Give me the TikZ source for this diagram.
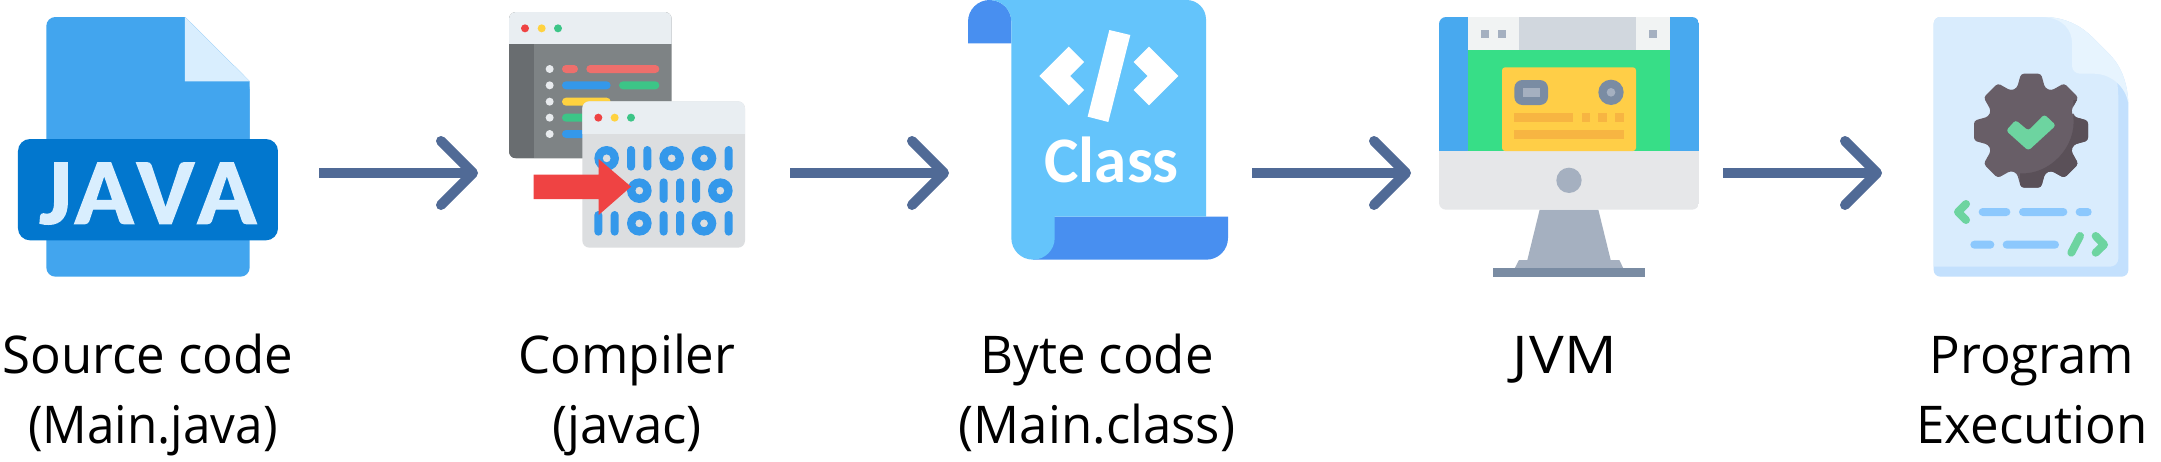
\documentclass[tikz,border=0pt]{standalone}
\usepackage{fontspec}
\usetikzlibrary{arrows.meta}
\setmainfont[FakeStretch=0.98]{Open Sans}
\newfontfamily\boldicon[FakeStretch=1.04,FakeBold=1.5,LetterSpace=3,Kerning=Off]{Carlito Bold}
\newfontfamily\boldclass{Carlito Bold}
\definecolor{flow}{HTML}{506A96}
\definecolor{jdoc}{HTML}{42A5EE}
\definecolor{jfold}{HTML}{D9EEFE}
\definecolor{jband}{HTML}{0277CE}
\definecolor{wbar}{HTML}{E9EEF2}
\definecolor{wdark}{HTML}{7E8385}
\definecolor{wstrip}{HTML}{696D70}
\definecolor{wlight}{HTML}{DCDEE0}
\definecolor{dred}{HTML}{EF4343}
\definecolor{dyel}{HTML}{FFD23F}
\definecolor{dgrn}{HTML}{3CC587}
\definecolor{bblue}{HTML}{3498EA}
\definecolor{bred}{HTML}{EE6F6C}
\definecolor{dwhite}{HTML}{E8EBEE}
\definecolor{sdark}{HTML}{488FF0}
\definecolor{slight}{HTML}{64C4FB}
\definecolor{mblue}{HTML}{48A9EF}
\definecolor{mchin}{HTML}{E6E7E9}
\definecolor{mwin}{HTML}{F1F3F3}
\definecolor{mwinc}{HTML}{D1D7DE}
\definecolor{mgrn}{HTML}{37DE87}
\definecolor{mcard}{HTML}{FFCE47}
\definecolor{mslate}{HTML}{7A8CA3}
\definecolor{mgrey}{HTML}{A5B0C0}
\definecolor{morange}{HTML}{F7B542}
\definecolor{pbase}{HTML}{C3E0FD}
\definecolor{plight}{HTML}{D9ECFD}
\definecolor{pfold}{HTML}{E7F4FE}
\definecolor{gdark}{HTML}{5A5058}
\definecolor{glight}{HTML}{685E67}
\definecolor{pgreen}{HTML}{6DD4A0}
\definecolor{pbar}{HTML}{8CC8FD}
\tikzset{
  px/.style={x=1pt,y=-1pt},
  zoomed/.style={x=0.33333pt,y=-0.33333pt},
  flowline/.style={draw=flow,line width=10pt,-{Straight Barb[round,length=32pt,width=64pt,line width=10pt]}},
  caption/.style={inner sep=0pt,align=center,anchor=base,text=black,font=\fontsize{52}{70}\selectfont},
  rbar/.style={rounded corners=4pt},
  codestroke/.style={draw=pgreen,line width=8pt,line cap=round,line join=round},
}
\newcommand{\gtooth}[1]{
  -- ([shift={(513,392)}]#1-18.2:134.7) -- ([shift={(513,392)}]#1-9.95:173.6)
  -- ([shift={(513,392)}]#1+9.95:173.6) -- ([shift={(513,392)}]#1+18.2:134.7)}
\newcommand{\gearshape}{([shift={(513,392)}]-18.2:134.7)
  \gtooth{0} \gtooth{45} \gtooth{90} \gtooth{135} \gtooth{180} \gtooth{225} \gtooth{270} \gtooth{315} -- cycle}
\begin{document}
\begin{tikzpicture}[px]
\useasboundingbox (0,0) rectangle (2161,461);
\fill[white] (0,0) rectangle (2161,461);

% Source file icon
\begin{scope}[zoomed]
  \fill[jdoc,rounded corners=9pt] (139,51) -- (555,51) -- (749,244) -- (749,830) -- (139,830) -- cycle;
  \fill[jdoc] (300,51) -- (555,51) -- (749,244) -- (749,500) -- (300,500) -- cycle;
  \fill[jfold] (555,51) -- (749,244) -- (555,244) -- cycle;
  \fill[jband,rounded corners=12pt] (54,417) rectangle (834,721);
  \node[inner sep=0pt,anchor=base,text=jfold,font=\boldicon\fontsize{94}{94}\selectfont] (javatext) at (444,671) {JAVA};
\end{scope}

% Compiler icon
\begin{scope}[shift={(480,0)},zoomed]
  \fill[wdark,rounded corners=7pt] (87,36) rectangle (575,475);
  \begin{scope}
    \clip[rounded corners=7pt] (87,36) rectangle (575,475);
    \fill[wbar] (87,36) rectangle (575,133);
    \fill[wstrip] (87,133) rectangle (161,475);
  \end{scope}
  \fill[dred] (135,85) circle[radius=12];
  \fill[dyel] (185,85) circle[radius=12];
  \fill[dgrn] (234,85) circle[radius=12];
  \foreach \y in {207,256,305,353,402} \fill[dwhite] (209,\y) circle[radius=12];
  \fill[bred,rbar] (246,195) rectangle (294,219);
  \fill[bred,rbar] (319,195) rectangle (538,219);
  \fill[bblue,rbar] (246,244) rectangle (392,268);
  \fill[dgrn,rbar] (417,244) rectangle (538,268);
  \fill[dyel,rbar] (246,293) rectangle (392,317);
  \fill[dgrn,rbar] (246,341) rectangle (392,365);
  \fill[bblue,rbar] (246,390) rectangle (392,414);
  \fill[wlight,rounded corners=7pt] (307,304) rectangle (795,743);
  \begin{scope}
    \clip[rounded corners=7pt] (307,304) rectangle (795,743);
    \fill[wbar] (307,304) rectangle (795,402);
  \end{scope}
  \fill[dred] (355,353) circle[radius=12];
  \fill[dyel] (404,353) circle[radius=12];
  \fill[dgrn] (453,353) circle[radius=12];
  \foreach \x/\y in {380/475,575/475,672/475,478/572,721/572,478/670,672/670}{
    \fill[bblue,even odd rule] (\x,\y) circle[radius=37] (\x,\y) circle[radius=12];
  }
  \foreach \x/\y in {453/475,502/475,746/475,551/572,600/572,648/572,355/670,404/670,551/670,600/670,746/670}{
    \fill[bblue,rbar] (\x-12,\y-37) rectangle (\x+12,\y+37);
  }
  \fill[dred] (161,524) -- (356,524) -- (356,477) -- (453,560) -- (356,645) -- (356,597) -- (161,597) -- cycle;
\end{scope}

% Byte code scroll icon
\begin{scope}[shift={(960,0)},zoomed]
  \fill[sdark] (24,130) -- (24,65) .. controls (24,29) and (53,0) .. (89,0) .. controls (125,0) and (154,29) .. (154,65) -- (154,130) -- cycle;
  \fill[sdark] (219,650) -- (804,650) -- (804,714) .. controls (804,750) and (775,779) .. (739,779) -- (219,779) -- cycle;
  \fill[slight] (89,0) -- (680,0) .. controls (712,0) and (738,26) .. (738,58) -- (738,650) -- (284,650) -- (284,714)
    .. controls (284,750) and (255,779) .. (219,779) .. controls (183,779) and (154,750) .. (154,714) -- (154,65)
    .. controls (154,29) and (125,0) .. (89,0) -- cycle;
  \fill[white] (326,140) -- (372,186) -- (330,228) -- (372,270) -- (326,316) -- (238,228) -- cycle;
  \fill[white] (567,140) -- (655,228) -- (567,316) -- (521,270) -- (563,228) -- (521,186) -- cycle;
  \fill[white] (448,90) -- (511,105) -- (445,366) -- (383,350) -- cycle;
  \node[inner sep=0pt,anchor=base,text=white,font=\boldclass\fontsize{65}{65}\selectfont] (classtext) at (455,548) {Class};
\end{scope}

% JVM monitor icon
\begin{scope}[shift={(1420,0)},zoomed]
  \fill[mgrey] (359,629) -- (535,629) -- (572,780) -- (598,780) -- (610,805) -- (284,805) -- (297,780) -- (322,780) -- cycle;
  \fill[mslate] (220,805) rectangle (674,830);
  \begin{scope}
    \clip[rounded corners=7pt] (57,51) rectangle (837,629);
    \fill[mblue] (57,51) rectangle (837,453);
    \fill[mchin] (57,453) rectangle (837,629);
    \fill[mgrn] (145,151) rectangle (749,453);
    \fill[mwin] (145,51) rectangle (749,151);
    \fill[mwinc] (296,51) rectangle (648,151);
  \end{scope}
  \fill[mgrey] (183,89) rectangle (208,114);
  \fill[mgrey] (233,89) rectangle (258,114);
  \fill[mgrey] (686,89) rectangle (711,114);
  \fill[mcard,rounded corners=3pt] (246,202) rectangle (648,453);
  \fill[mslate,rounded corners=8pt] (283,240) rectangle (384,315);
  \fill[mgrey] (308,265) rectangle (359,290);
  \fill[mslate] (573,277) circle[radius=38];
  \fill[mgrey] (573,277) circle[radius=13];
  \fill[morange] (283,340) rectangle (459,365);
  \fill[morange] (485,340) rectangle (510,365);
  \fill[morange] (535,340) rectangle (560,365);
  \fill[morange] (585,340) rectangle (611,365);
  \fill[morange] (283,390) rectangle (611,416);
  \fill[mgrey] (447,541) circle[radius=38];
\end{scope}

% Program execution icon
\begin{scope}[shift={(1860,0)},zoomed]
  \fill[pbase] (241,51) -- (550,51) .. controls (610,51) and (660,75) .. (695,110) -- (750,165) .. controls (785,200) and (805,255) .. (805,320)
    -- (805,810) .. controls (805,821) and (796,830) .. (785,830) -- (241,830) .. controls (230,830) and (221,821) .. (221,810)
    -- (221,71) .. controls (221,60) and (230,51) .. (241,51) -- cycle;
  \fill[plight] (241,51) -- (550,51) .. controls (610,51) and (660,75) .. (695,110) -- (750,165) .. controls (762,190) and (775,240) .. (775,300) -- (775,775)
    .. controls (775,789) and (764,800) .. (750,800) -- (221,800) -- (221,71) .. controls (221,60) and (230,51) .. (241,51) -- cycle;
  \fill[pfold] (550,51) .. controls (610,55) and (636,90) .. (636,130) -- (636,197) .. controls (636,212) and (648,221) .. (660,221) -- (700,221)
    .. controls (760,221) and (805,270) .. (805,320) .. controls (805,255) and (785,200) .. (750,165) -- (695,110) .. controls (660,75) and (610,51) .. (550,51) -- cycle;
  \fill[glight,rounded corners=3pt] \gearshape;
  \begin{scope}
    \clip[rounded corners=3pt] \gearshape;
    \fill[gdark] (640,350) .. controls (650,440) and (570,525) .. (480,520) -- (480,600) -- (720,600) -- (720,300) -- (640,300) -- cycle;
  \end{scope}
  \fill[pgreen,rounded corners=3pt] (438,392) -- (467,360) -- (505,392) -- (553,343) -- (588,376) -- (505,452) -- cycle;
  \draw[codestroke] (318,612) -- (294,636) -- (318,660);
  \draw[codestroke] (660,708) -- (634,758);
  \draw[codestroke] (707,708) -- (732,734) -- (707,758);
  \fill[pbar,rbar] (356,624) rectangle (451,648);
  \fill[pbar,rbar] (477,624) rectangle (622,648);
  \fill[pbar,rbar] (647,624) rectangle (695,648);
  \fill[pbar,rbar] (331,722) rectangle (403,746);
  \fill[pbar,rbar] (428,722) rectangle (597,746);
\end{scope}

% Connectors
\coordinate (s1) at (319,173); \coordinate (t1) at (478,173);
\coordinate (s2) at (790,173); \coordinate (t2) at (949,173);
\coordinate (s3) at (1252,173); \coordinate (t3) at (1411,173);
\coordinate (s4) at (1723,173); \coordinate (t4) at (1882,173);
\draw[flowline] (s1) -- (t1);
\draw[flowline] (s2) -- (t2);
\draw[flowline] (s3) -- (t3);
\draw[flowline] (s4) -- (t4);

% Captions
\node[caption] (src) at (148,443) {Source code\\\hspace*{10pt}\addfontfeature{FakeStretch=0.95}(Main.java)};
\node[caption] (cmp) at (627,443) {Compiler\\(javac)};
\node[caption] (byt) at (1097,443) {Byte code\\(Main.class)};
\node[caption] (jvm) at (1565,373) {\addfontfeature{FakeStretch=1.12,LetterSpace=2}JVM};
\node[caption] (prg) at (2032,443) {Program\\Execution};
\end{tikzpicture}
\end{document}
